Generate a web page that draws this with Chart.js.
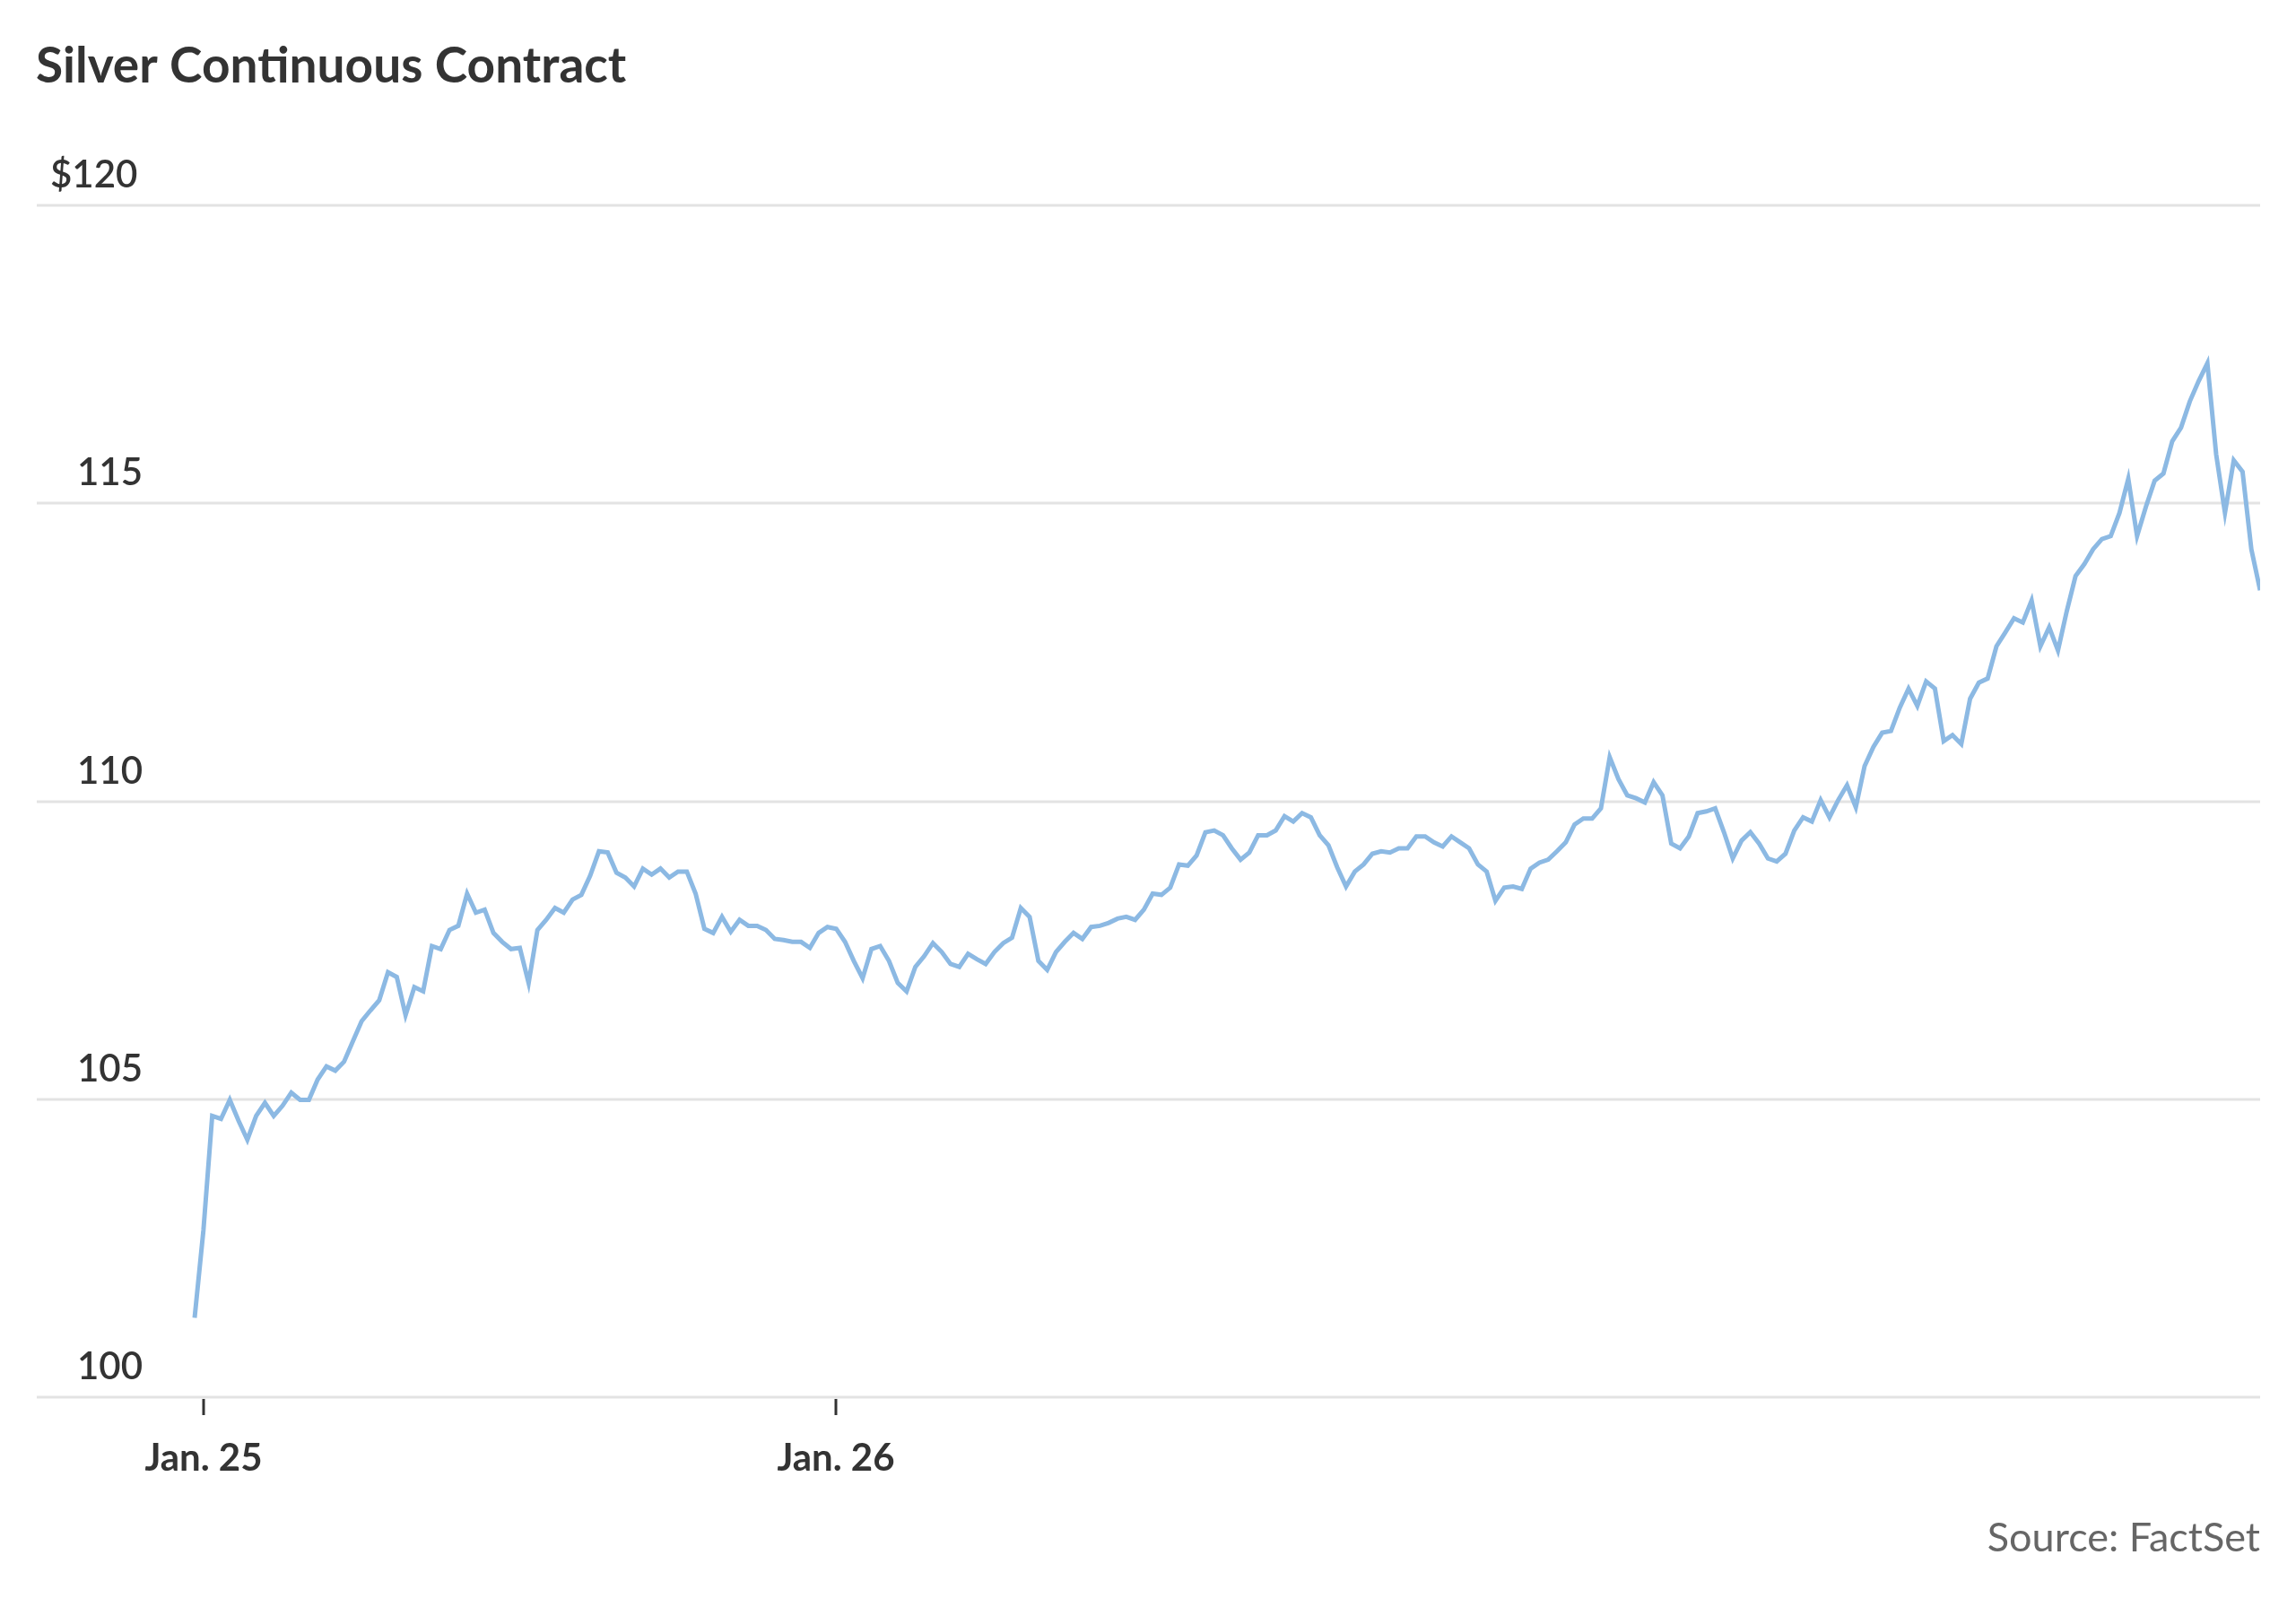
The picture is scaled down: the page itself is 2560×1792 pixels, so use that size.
<!DOCTYPE html>
<html>
<head>
<meta charset="utf-8">
<script src="https://cdn.jsdelivr.net/npm/chart.js@4"></script>
<style>
  html, body { margin: 0; padding: 0; background: #fff; }
  #wrap { position: relative; width: 2560px; height: 1792px; }
</style>
</head>
<body>
<div id="wrap"><canvas id="grafica" width="2560" height="1792"></canvas></div>
<script>
const titulo = 'Silver Continuous Contract';
const fuente = 'Source: FactSet';
const yTicks = [100, 105, 110, 115, 120];
const yLabels = ['100', '105', '110', '115', '$120'];
const xTickIndex = [1, 73];
const xTickLabels = ['Jan. 25', 'Jan. 26'];

// silver price, intraday
const precios = [
	101.33, 102.80, 104.72, 104.67, 104.99, 104.64, 104.32, 104.72, 104.94, 104.72,
	104.89, 105.11, 104.99, 104.99, 105.33, 105.55, 105.48, 105.63, 105.97, 106.31,
	106.49, 106.66, 107.13, 107.05, 106.41, 106.88, 106.81, 107.57, 107.52, 107.84,
	107.91, 108.45, 108.13, 108.18, 107.79, 107.64, 107.52, 107.54, 106.95, 107.84,
	108.01, 108.21, 108.13, 108.35, 108.43, 108.75, 109.16, 109.14, 108.80, 108.72,
	108.57, 108.87, 108.77, 108.87, 108.72, 108.82, 108.82, 108.45, 107.86, 107.79,
	108.06, 107.81, 108.01, 107.91, 107.91, 107.84, 107.69, 107.67, 107.64, 107.64,
	107.54, 107.79, 107.89, 107.86, 107.64, 107.32, 107.03, 107.52, 107.57, 107.32,
	106.95, 106.81, 107.22, 107.40, 107.62, 107.47, 107.27, 107.22, 107.44, 107.35,
	107.27, 107.47, 107.62, 107.71, 108.21, 108.06, 107.32, 107.17, 107.47, 107.64,
	107.79, 107.69, 107.89, 107.91, 107.96, 108.03, 108.06, 108.01, 108.18, 108.45,
	108.43, 108.55, 108.94, 108.92, 109.09, 109.48, 109.51, 109.43, 109.21, 109.02,
	109.14, 109.43, 109.43, 109.51, 109.75, 109.66, 109.80, 109.73, 109.43, 109.26,
	108.89, 108.57, 108.82, 108.94, 109.12, 109.16, 109.14, 109.21, 109.21, 109.41,
	109.41, 109.31, 109.24, 109.41, 109.31, 109.21, 108.94, 108.82, 108.33, 108.55,
	108.57, 108.53, 108.87, 108.97, 109.02, 109.16, 109.31, 109.61, 109.71, 109.71,
	109.88, 110.74, 110.37, 110.10, 110.05, 109.98, 110.32, 110.10, 109.29, 109.21,
	109.41, 109.80, 109.83, 109.88, 109.48, 109.04, 109.34, 109.48, 109.29, 109.04,
	108.99, 109.12, 109.51, 109.73, 109.66, 110.02, 109.73, 110.02, 110.27, 109.90,
	110.59, 110.91, 111.15, 111.18, 111.57, 111.89, 111.60, 112.01, 111.89, 111.01,
	111.11, 110.96, 111.72, 111.99, 112.06, 112.60, 112.83, 113.07, 113.00, 113.37,
	112.60, 112.92, 112.53, 113.19, 113.78, 113.98, 114.23, 114.40, 114.45, 114.84,
	115.41, 114.45, 114.94, 115.38, 115.50, 116.04, 116.27, 116.71, 117.05, 117.35,
	115.82, 114.84, 115.72, 115.53, 114.23, 113.54
];

const indices = precios.map((p, i) => i);
const ultimo = precios.length - 1;

const decoracion = {
	id: 'decoracion',
	beforeDatasetsDraw(chart) {
		const ctx = chart.ctx;
		const y = chart.scales.y;
		ctx.save();
		ctx.strokeStyle = '#e3e3e3';
		ctx.lineWidth = 3;
		ctx.font = '600 42px Lato';
		ctx.fillStyle = '#333';
		ctx.textBaseline = 'alphabetic';
		ctx.textAlign = 'left';
		yTicks.forEach((v, i) => {
			const py = Math.round(y.getPixelForValue(v));
			ctx.beginPath();
			ctx.moveTo(41, py);
			ctx.lineTo(2520, py);
			ctx.stroke();
			ctx.fillText(yLabels[i], v === 120 ? 56 : 86, py - 20);
		});
		ctx.restore();
	},
	afterDraw(chart) {
		const ctx = chart.ctx;
		const x = chart.scales.x;
		const bottom = chart.chartArea.bottom;
		ctx.save();
		ctx.strokeStyle = '#333';
		ctx.lineWidth = 3;
		ctx.fillStyle = '#333';
		ctx.font = 'bold 42px Lato';
		ctx.textAlign = 'center';
		ctx.textBaseline = 'alphabetic';
		xTickIndex.forEach((v, i) => {
			const px = Math.round(x.getPixelForValue(v));
			ctx.beginPath();
			ctx.moveTo(px, bottom + 2);
			ctx.lineTo(px, bottom + 20);
			ctx.stroke();
			ctx.fillText(xTickLabels[i], px, bottom + 82);
		});
		ctx.textAlign = 'left';
		ctx.font = 'bold 55px Lato';
		ctx.fillText(titulo, 40, 92);
		ctx.textAlign = 'right';
		ctx.font = '45px Lato';
		ctx.fillStyle = '#666';
		ctx.fillText(fuente, 2520, 1730);
		ctx.restore();
	}
};

const ctx = document.querySelector('#grafica');
const chart = new Chart(ctx, {
	type: 'line',
	data: {
		labels: indices,
		datasets: [
			{
				label: 'Silver',
				data: indices.map((i) => ({ x: i, y: precios[i] })),
				borderColor: '#8cb9e3',
				borderWidth: 5,
				pointRadius: 0,
				tension: 0,
				fill: false,
			},
		],
	},
	options: {
		responsive: false,
		animation: false,
		devicePixelRatio: 1,
		layout: { padding: { left: 41, right: 40, top: 229, bottom: 234 } },
		plugins: { legend: { display: false }, tooltip: { enabled: false } },
		scales: {
			x: {
				type: 'linear',
				display: false,
				min: -ultimo * (217 - 41) / (2520 - 217),
				max: ultimo,
			},
			y: { display: false, min: 100, max: 120 },
		},
	},
	plugins: [decoracion],
});
</script>
</body>
</html>
